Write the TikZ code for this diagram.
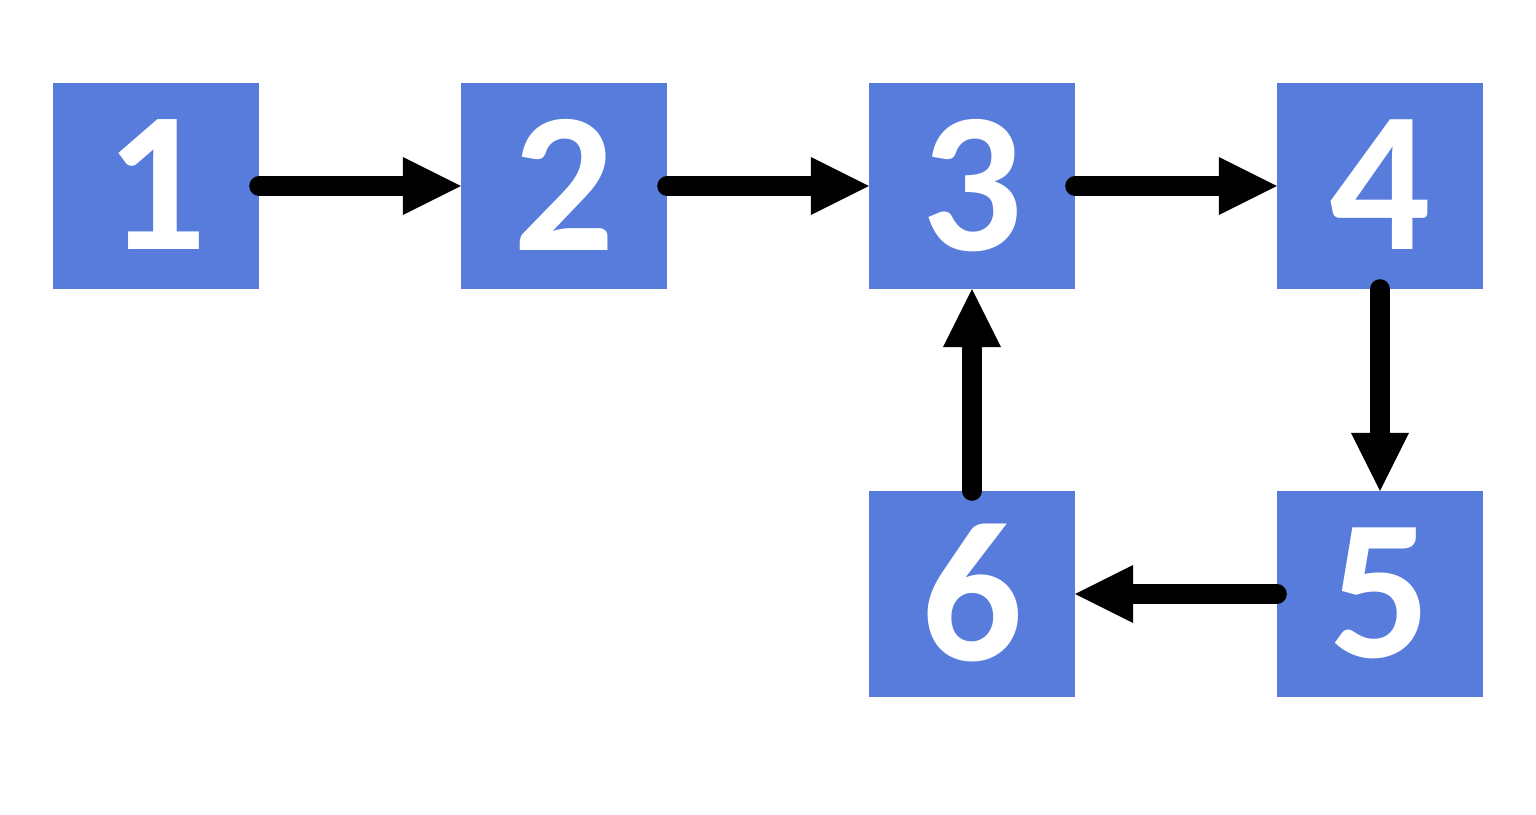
\documentclass[tikz,border=0pt]{standalone}
\usepackage{fontspec}
\setmainfont{Carlito}
\usetikzlibrary{arrows.meta}
\definecolor{boxblue}{HTML}{577CDC}
\begin{document}
\begin{tikzpicture}[x=1pt,y=-1pt,
  numbox/.style={fill=boxblue,draw=none,minimum size=206pt,inner sep=0pt,text=white,
    font=\fontsize{200}{200}\selectfont\bfseries},
  link/.style={line width=20pt,line cap=round,-{Triangle[length=58pt,width=58pt,line width=0pt]}}]
\useasboundingbox (0,0) rectangle (1536,814);
\node[numbox] (n1) at (156,186) {\raisebox{3pt}{1}};
\node[numbox] (n2) at (564,186) {\raisebox{3pt}{2}};
\node[numbox] (n3) at (972,186) {\raisebox{3pt}{3}};
\node[numbox] (n4) at (1380,186) {\raisebox{3pt}{4}};
\node[numbox] (n5) at (1380,594) {\raisebox{3pt}{5}};
\node[numbox] (n6) at (972,594) {\raisebox{3pt}{6}};
\draw[link] (n1.east) -- (n2.west);
\draw[link] (n2.east) -- (n3.west);
\draw[link] (n3.east) -- (n4.west);
\draw[link] (n4.south) -- (n5.north);
\draw[link] (n5.west) -- (n6.east);
\draw[link] (n6.north) -- (n3.south);
\end{tikzpicture}
\end{document}
